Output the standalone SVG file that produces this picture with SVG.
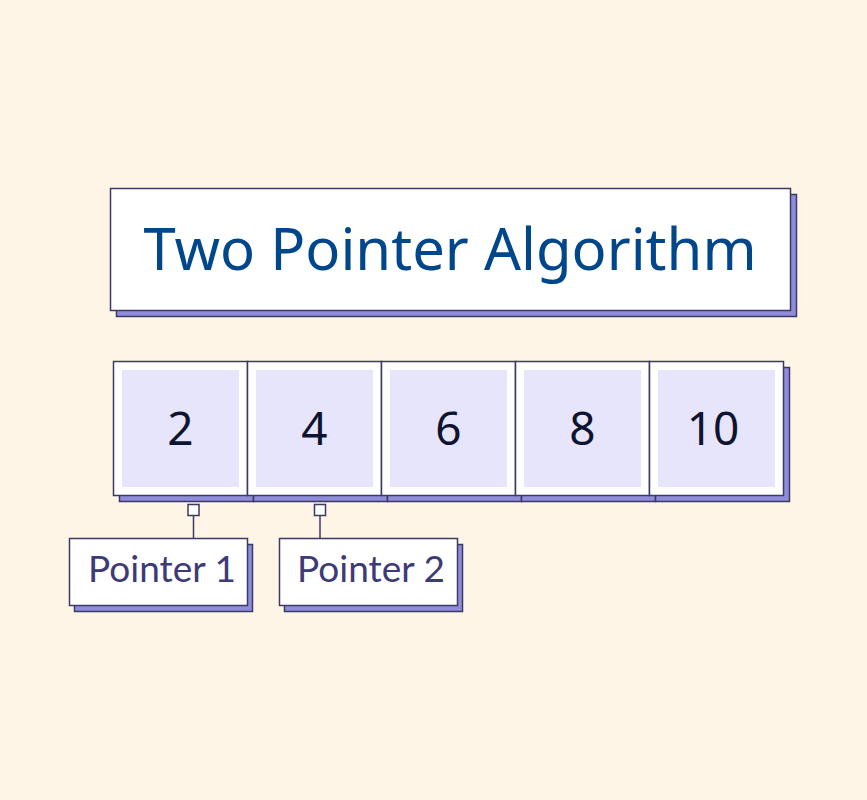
<svg xmlns="http://www.w3.org/2000/svg" width="867" height="800" viewBox="0 0 867 800">
<style>
.sh{fill:#8f8cdc;stroke:#3b3a66;stroke-width:1.5}
.box{fill:#ffffff;stroke:#3b3a66;stroke-width:1.5}
.inner{fill:#e6e5fb}
.num{font-family:"Noto Sans",sans-serif;font-size:46px;fill:#0e1430;text-anchor:middle}
.ptr{font-family:"Lato",sans-serif;font-size:37px;fill:#3d3a78;text-anchor:middle}
.title{font-family:"Noto Sans",sans-serif;font-size:58px;fill:#00468b;text-anchor:middle}
.con{stroke:#3b3a66;stroke-width:1.5;fill:none}
.anchor{fill:#ffffff;stroke:#3b3a66;stroke-width:1.5}
</style>
<rect width="867" height="800" fill="#fff5e7"/>
<g id="title">
<rect class="sh" x="116.5" y="194.5" width="680" height="122"/>
<rect class="box" x="110.5" y="188.5" width="680" height="122"/>
<text class="title" x="450" y="270">Two Pointer Algorithm</text>
</g>
<g id="cell-1">
<rect class="sh" x="119.5" y="367.5" width="134" height="134"/>
<rect class="box" x="113.5" y="361.5" width="134" height="134"/>
<rect class="inner" x="122" y="370" width="117" height="117"/>
<text class="num" x="180.5" y="445">2</text>
</g>
<g id="cell-2">
<rect class="sh" x="253.5" y="367.5" width="134" height="134"/>
<rect class="box" x="247.5" y="361.5" width="134" height="134"/>
<rect class="inner" x="256" y="370" width="117" height="117"/>
<text class="num" x="314.5" y="445">4</text>
</g>
<g id="cell-3">
<rect class="sh" x="387.5" y="367.5" width="134" height="134"/>
<rect class="box" x="381.5" y="361.5" width="134" height="134"/>
<rect class="inner" x="390" y="370" width="117" height="117"/>
<text class="num" x="448.5" y="445">6</text>
</g>
<g id="cell-4">
<rect class="sh" x="521.5" y="367.5" width="134" height="134"/>
<rect class="box" x="515.5" y="361.5" width="134" height="134"/>
<rect class="inner" x="524" y="370" width="117" height="117"/>
<text class="num" x="582.5" y="445">8</text>
</g>
<g id="cell-5">
<rect class="sh" x="655.5" y="367.5" width="134" height="134"/>
<rect class="box" x="649.5" y="361.5" width="134" height="134"/>
<rect class="inner" x="658" y="370" width="117" height="117"/>
<text class="num" x="713" y="445">10</text>
</g>
<g id="connectors">
<line class="con" x1="193.5" y1="516" x2="193.5" y2="538"/>
<rect class="anchor" x="188" y="504.5" width="11" height="11"/>
<line class="con" x1="320" y1="516" x2="320" y2="538"/>
<rect class="anchor" x="314.5" y="504.5" width="11" height="11"/>
</g>
<g id="pointer-1">
<rect class="sh" x="74.5" y="544.5" width="178" height="67"/>
<rect class="box" x="69.5" y="538.5" width="178" height="67"/>
<text class="ptr" x="162" y="582">Pointer 1</text>
</g>
<g id="pointer-2">
<rect class="sh" x="284.5" y="544.5" width="178" height="67"/>
<rect class="box" x="279.5" y="538.5" width="178" height="67"/>
<text class="ptr" x="371" y="582">Pointer 2</text>
</g>
</svg>
